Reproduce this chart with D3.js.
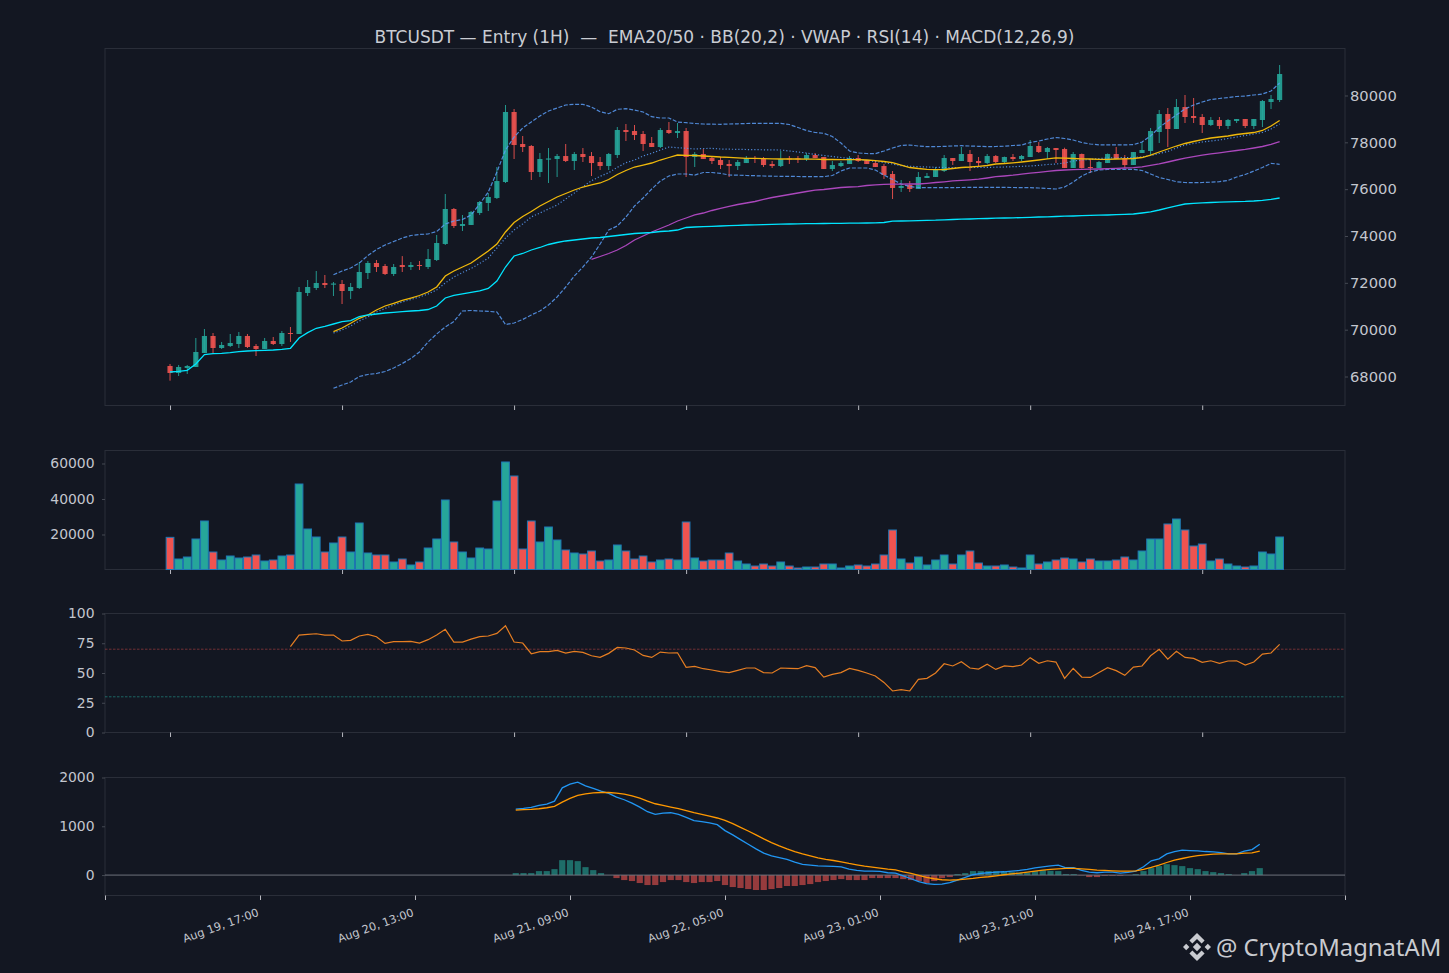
<!DOCTYPE html>
<html>
<head>
<meta charset="utf-8">
<script src="https://cdn.jsdelivr.net/npm/d3@7"></script>
<style>
  html, body { margin: 0; padding: 0; background: #131722; }
  svg { display: block; }
  text { font-family: "DejaVu Sans", sans-serif; }
</style>
</head>
<body>
<svg id="chart" width="1449" height="973"></svg>
<script>
// candles, one hour each
var opens = [68428,68129,68343,68385,68983,69709,69196,69282,69367,69709,69282,69154,69496,69367,69837,69794,71545,71758,71972,71900,
71929,71630,71758,72399,72826,72698,72356,72740,72655,72741,72655,72954,73638,75132,74406,74449,74962,75389,75602,76285,
79274,77907,77822,76711,77240,77266,77394,77181,77480,77394,77138,76967,77437,78505,78462,78334,77950,77779,78505,78377,
78462,77352,77480,77309,77224,77053,76967,77095,77309,77266,77053,76967,77290,77290,77266,77437,77352,76839,76967,77053,
77309,77224,77095,76967,76626,76029,76157,75986,76455,76498,76754,77309,77181,77480,77181,77095,77394,77138,77352,77266,
77352,77822,77565,77736,77693,76882,77480,76925,76882,77095,77480,77309,77010,77523,77608,78420,79188,78548,79487,79103,
79060,78719,78932,78676,78889,78975,78676,78932,79701,79786];
var highs = [68514,68471,68471,69624,70008,69837,69453,69794,69880,69794,69367,69624,69667,69922,70093,71801,72100,72484,72313,72014,
72100,71972,72869,72911,72954,72783,72783,73120,72869,72911,73424,74023,75773,75175,74876,75047,75474,75815,76925,79573,
79402,78249,77864,77523,77736,77480,77907,77565,77736,77565,77352,77523,78633,78761,78719,78462,78206,78590,78847,78804,
78590,77565,77693,77352,77352,77224,77224,77394,77394,77352,77181,77608,77394,77394,77523,77523,77352,77181,77181,77394,
77437,77224,77224,77053,76754,76370,76327,76711,76669,76925,77437,77309,77779,77651,77352,77480,77437,77370,77480,77437,
78078,77992,77779,77736,77750,77565,77500,77266,77180,77500,77779,77437,77565,77992,78590,79359,79444,79829,80000,79872,
79188,79060,79060,78975,78975,78975,78975,79786,80000,81281];
var lows = [67800,68001,68087,68385,68983,68983,69154,69239,69196,69196,68855,69154,69325,69282,69453,69794,71417,71673,71758,71417,
71075,71289,71716,72142,72442,72313,72271,72442,72527,72527,72570,72911,73595,74321,74193,74449,74876,75047,75559,76242,
77266,77565,76370,76498,76242,76498,77138,76797,77138,76541,76797,76797,77309,78035,78078,77608,77779,77736,78334,78163,
76498,76925,77266,77053,76839,76498,76797,77095,77095,76925,76882,76925,77053,77095,77181,77309,76839,76754,76925,77053,
77138,77053,76925,76413,75559,75858,75858,75986,76455,76498,76711,77010,77181,76754,76925,77053,77095,77095,77181,77181,
77352,77523,77266,77095,76880,76882,76860,76669,76882,77095,77266,76882,77010,77523,77437,77950,77779,78548,78804,78804,
78377,78676,78548,78548,78804,78590,78548,78633,79402,79701];
var closes = [68129,68385,68428,69026,69709,69196,69325,69410,69709,69239,69154,69496,69367,69837,69794,71588,71801,71972,71886,71950,
71630,71801,72442,72826,72655,72356,72655,72655,72741,72698,72997,73680,75132,74406,74492,75004,75431,75645,76327,79274,
77864,77779,76711,77266,77290,77394,77181,77480,77352,77095,76967,77480,78505,78420,78291,77907,77779,78505,78377,78462,
77352,77480,77266,77181,77010,76967,77138,77309,77266,77010,76967,77266,77250,77250,77437,77309,76839,77010,77095,77309,
77181,77053,76925,76583,76029,76114,75986,76498,76541,76797,77309,77181,77480,77138,77095,77394,77138,77352,77266,77394,
77822,77565,77736,77651,76882,77480,76882,76882,77138,77480,77266,77010,77565,77651,78462,79188,78548,79487,79060,79017,
78719,78932,78676,78932,78975,78676,78975,79743,79829,80896];
var volumes = [18400,6200,7320,17470,27610,10140,5630,7890,6760,7320,8450,5070,5630,7890,8450,48450,23100,18590,10140,15210,
18590,10140,26480,9580,8450,8450,4510,6200,2820,4510,12390,17470,39440,15780,10140,6760,12390,11830,38870,60850,
52960,11830,27610,15780,24230,16900,11270,9580,9010,10700,5070,5630,14080,10700,6200,7890,4510,5630,6200,5630,
27040,6760,5070,5630,5630,9580,5070,3380,2250,3380,2250,4510,2250,1130,1690,1690,3380,3380,1130,2250,
2820,2250,3380,8450,22540,6200,3940,7320,2820,5630,8450,3380,8450,10700,3940,2250,2250,2820,1690,1130,
8450,3380,4510,5630,6760,6200,4510,6200,5070,5070,5630,7320,5630,10700,17470,17470,25920,28730,22540,13520,
14650,5070,6200,3380,2250,1690,2250,10140,9010,18590];

// overlays, first value belongs to candle number in the *Start var
var vwap = [68172,68202,68245,68513,68911,68953,68970,68996,69039,69068,69081,69098,69111,69141,69184,69624,69850,70038,70123,70221,
70320,70362,70533,70606,70648,70691,70721,70746,70776,70798,70840,70990,71332,71439,71503,71567,71631,71737,72058,72655,
73125,73232,73381,73488,73616,73701,73766,73808,73851,73894,73915,73958,74000,74043,74086,74107,74128,74171,74192,74235,
74342,74363,74376,74393,74406,74423,74436,74449,74457,74466,74474,74483,74491,74500,74504,74508,74513,74517,74521,74525,
74530,74534,74542,74555,74611,74620,74628,74637,74645,74653,74671,74683,74696,74705,74717,74726,74739,74748,74756,74765,
74778,74790,74799,74811,74824,74833,74846,74858,74867,74875,74888,74901,74918,74961,75012,75089,75175,75268,75345,75375,
75397,75409,75422,75435,75448,75456,75473,75503,75546,75601];
var bandStart = 19;
var ema20 = [69892,70050,70251,70465,70606,70819,70990,71105,71225,71331,71438,71588,71801,72271,72484,72655,72826,73082,73338,73637,74150,
74555,74812,75025,75260,75452,75644,75794,75943,76071,76157,76242,76391,76605,76776,76925,77010,77096,77224,77331,77437,
77425,77416,77395,77374,77352,77340,77318,77297,77292,77284,77275,77267,77267,77267,77258,77258,77245,77245,77241,77241,
77237,77224,77194,77160,77109,77010,76904,76861,76827,76810,76818,76861,76904,76925,76955,76989,77053,77075,77104,77139,
77181,77224,77275,77318,77301,77288,77275,77267,77254,77254,77267,77275,77288,77331,77437,77566,77694,77822,77929,78014,
78099,78163,78206,78249,78313,78356,78398,78484,78676,78911];
var bbMid = [69837,69965,70136,70349,70520,70734,70883,71033,71161,71267,71374,71502,71673,71972,72228,72420,72591,72805,73039,73466,73893,
74235,74491,74790,74961,75132,75303,75559,75815,76084,76340,76528,76682,76912,77109,77224,77395,77510,77651,77779,77749,
77724,77694,77715,77719,77694,77685,77681,77672,77668,77660,77655,77651,77608,77566,77523,77459,77416,77374,77331,77288,
77254,77203,77160,77117,77053,76980,76959,76938,76925,76912,76904,76904,76904,76904,76908,76908,76917,76925,76938,76955,
76968,76998,77032,77053,77096,77181,77224,77245,77288,77309,77318,77326,77335,77352,77416,77501,77587,77736,77864,77929,
77993,78035,78078,78142,78206,78270,78334,78398,78548,78761];
var bbUpper = [72326,72484,72612,72825,73146,73402,73595,73744,73893,74000,74043,74064,74171,74491,74619,74683,74876,75345,75858,76712,77651,
78206,78590,78847,79103,79316,79444,79572,79602,79602,79487,79286,79201,79389,79414,79359,79274,79073,79017,79017,78847,
78817,78783,78761,78753,78749,78761,78770,78783,78787,78791,78791,78791,78740,78612,78484,78398,78364,78227,77950,77608,
77523,77502,77493,77608,77736,77843,77864,77822,77792,77796,77805,77822,77835,77822,77809,77796,77800,77813,77843,77864,
77971,78035,78121,78185,78142,78078,77971,77907,77873,77869,77869,77873,77877,77993,78249,78612,78889,79146,79402,79573,
79701,79807,79850,79893,79936,79957,80000,80042,80170,80512];
var bbLower = [67475,67616,67745,67979,68065,68108,68193,68342,68534,68748,69026,69453,69795,70093,70328,70776,70798,70776,70763,70734,70200,
70264,70413,70606,70776,71033,71374,71801,72271,72655,73082,73637,74235,74406,74790,75260,75602,75986,76327,76541,76626,
76626,76583,76690,76690,76656,76583,76575,76562,76553,76541,76532,76528,76524,76520,76515,76511,76511,76562,76754,76882,
76882,76882,76797,76583,76391,76199,76092,76050,76041,76041,76041,76046,76050,76054,76058,76058,76058,76054,76050,76046,
76041,76028,76007,75986,76071,76285,76541,76712,76797,76819,76827,76827,76827,76776,76626,76477,76391,76298,76263,76255,
76263,76276,76298,76349,76498,76605,76754,76904,77083,77040];
var ema50Start = 49;
var ema50 = [72976,73103,73232,73381,73573,73808,73979,74150,74299,74449,74619,74747,74876,74961,75068,75154,75239,75324,75388,75452,
75538,75623,75687,75751,75815,75879,75935,75965,76007,76050,76071,76084,76135,76165,76186,76191,76195,76199,76199,76229,
76263,76293,76331,76353,76379,76404,76455,76511,76541,76575,76618,76660,76699,76742,76776,76797,76810,76823,76831,76840,
76857,76870,76882,76899,76934,76998,77062,77139,77224,77309,77369,77429,77489,77532,77583,77630,77677,77736,77801,77895,78005];

var rsiStart = 14;
var rsi = [72.1,81.9,82.5,83,81.9,81.9,76.9,77.4,81.1,82.5,80.5,74.9,76.3,76.3,76.6,75.2,78,81.9,86.7,76,
76,78.5,80.5,81.1,83.3,89.7,76,75.2,66.2,67.9,67.9,69,66.8,68.2,67.3,64.5,63.1,66.5,71.5,71,
69.3,64.8,63.1,67.6,66.8,67,54.7,55.6,53.6,52.5,51.1,50.3,52.2,54.2,54.2,50.3,50,54.2,53.9,53.6,
56.1,54.5,46.6,48.9,50.3,53.9,52.2,50,47.5,42.1,34.9,36,34.9,44.7,45.5,50,57.8,55.9,59.5,54.2,
53.3,57.3,53,55.9,55.3,56.7,62.9,58.1,60.3,59.2,45.5,53.9,46.6,46.3,50.5,54.5,52,48,55,55.9,
64.5,69.9,61.7,68.2,63.1,62.3,58.9,60.3,58.1,60.1,60.3,56.7,59.2,65.9,66.8,74];

var macdStart = 33;
var macdLine = [1353,1367,1387,1428,1455,1516,1788,1863,1904,1829,1775,1720,1673,1598,1544,1476,1394,1299,1244,1272,
1278,1244,1183,1115,1095,1068,1034,911,823,728,632,537,449,394,360,320,265,218,204,190,
184,177,170,122,95,82,82,75,48,40,-14,-75,-136,-177,-190,-184,-156,-102,-48,7,
34,48,61,68,82,95,116,150,170,190,204,150,150,95,61,48,61,61,41,54,
82,170,292,333,435,483,510,503,496,483,476,462,435,435,490,524,632];
var macdSignal = [1333,1340,1346,1360,1380,1408,1496,1571,1632,1666,1686,1693,1693,1680,1659,1625,1578,1516,1462,1428,
1394,1360,1319,1278,1244,1210,1170,1122,1054,979,904,823,741,666,598,537,483,435,394,354,
320,299,272,238,211,184,163,143,122,109,68,34,-7,-48,-75,-95,-102,-95,-82,-68,
-48,-34,-14,7,27,41,61,82,102,116,129,136,136,129,116,102,95,88,82,82,
88,116,156,204,258,306,340,374,401,415,428,435,435,435,449,456,490];
var macdHist = [41,41,41,82,82,122,306,306,286,163,102,41,0,-61,-102,-122,-163,-204,-204,-143,
-102,-102,-143,-163,-143,-143,-122,-204,-245,-265,-286,-306,-306,-286,-265,-224,-224,-204,-184,-143,
-122,-102,-82,-102,-102,-102,-61,-61,-61,-61,-82,-102,-122,-163,-122,-61,-41,20,41,82,
82,82,82,75,61,54,54,82,102,88,82,20,20,-7,-41,-41,-14,-14,-14,0,
20,82,143,184,224,204,184,143,122,82,61,41,20,0,41,82,143];

var priceTicks = [68000,70000,72000,74000,76000,78000,80000];
var volumeTicks = [20000,40000,60000];
var rsiTicks = [0,25,50,75,100];
var macdTicks = [0,1000,2000];
var candleTicks = [0,20,40,60,80,100,120];
var bottomTicks = [-20,0,20,40,60,80,100,120,140];
var bottomLabels = ["","Aug 19, 17:00","Aug 20, 13:00","Aug 21, 09:00","Aug 22, 05:00","Aug 23, 01:00","Aug 23, 21:00","Aug 24, 17:00",""];
var titleText = "BTCUSDT \u2014 Entry (1H)  \u2014  EMA20/50 \u00b7 BB(20,2) \u00b7 VWAP \u00b7 RSI(14) \u00b7 MACD(12,26,9)";

var green = "#26a69a", red = "#ef5350", spine = "#2a2e39", textColor = "#c3c6ce";
var svg = d3.select("#chart");

// the three upper panes share one x scale, the macd pane has its own (wider domain)
var x = d3.scaleLinear().domain([-7.56, 136.6]).range([105, 1345]);
var xMacd = d3.scaleLinear().domain([-20, 140]).range([105, 1345]);
var step = x(1) - x(0);
var stepMacd = xMacd(1) - xMacd(0);

var yPrice = d3.scaleLinear().domain([66762, 82007]).range([405, 48]);
var yVol = d3.scaleLinear().domain([0, 67600]).range([570, 450]);
var yRsi = d3.scaleLinear().domain([0, 100]).range([732.5, 613.5]);
var yMacd = d3.scaleLinear().domain([-408, 2000]).range([895, 777.5]);

function up(i) { return closes[i] >= opens[i]; }

function pane(top, bottom) {
    return svg.append("rect").attr("x",105).attr("y",top).attr("width",1240).attr("height",bottom-top)
              .attr("fill","none").attr("stroke",spine).attr("stroke-width",1);
}

function styleAxis(g, size, tickColor) {
    g.select(".domain").remove();
    g.selectAll("line").attr("stroke",tickColor || "#c8cad0").attr("stroke-width",0.9);
    g.selectAll("text").attr("fill",textColor).style("font-size",size+"px")
     .style("font-family",'"DejaVu Sans", sans-serif');
}

function xTicks(y) {
    var g = svg.append("g").attr("transform","translate(0,"+y+")")
               .call(d3.axisBottom(x).tickValues(candleTicks).tickSize(4.5).tickFormat(""));
    styleAxis(g, 10);
}

function overlay(values, start, scaleY, scaleX, color, width, dash, opacity) {
    var line = d3.line().x(function(d,i){ return scaleX(i+start); }).y(function(d){ return scaleY(d); });
    return svg.append("path").datum(values).attr("d",line).attr("fill","none")
              .attr("stroke",color).attr("stroke-width",width)
              .attr("stroke-dasharray",dash).attr("opacity",opacity);
}

// title
svg.append("text").attr("x",724.5).attr("y",43).attr("text-anchor","middle")
   .attr("fill","#c9ccd3").style("font-size","17px").style("white-space","pre").text(titleText);

// ---------- price pane
pane(48.5,405.5);
xTicks(405.5);
var priceAxis = svg.append("g").attr("transform","translate(1345,0.5)")
    .call(d3.axisRight(yPrice).tickValues(priceTicks).tickSize(3).tickPadding(2).tickFormat(d3.format("d")));
styleAxis(priceAxis, 14.7, "#4a4e58");

var candle = svg.append("g").selectAll("g").data(d3.range(opens.length)).join("g");
candle.append("line").attr("x1",function(i){return x(i);}).attr("x2",function(i){return x(i);})
      .attr("y1",function(i){return yPrice(highs[i]);}).attr("y2",function(i){return yPrice(lows[i]);})
      .attr("stroke",function(i){return up(i)?green:red;}).attr("stroke-width",1).attr("opacity",0.9);
candle.append("rect").attr("x",function(i){return x(i)-step*0.3;}).attr("width",step*0.6)
      .attr("y",function(i){return yPrice(Math.max(opens[i],closes[i]));})
      .attr("height",function(i){return Math.max(1,Math.abs(yPrice(opens[i])-yPrice(closes[i])));})
      .attr("fill",function(i){return up(i)?green:red;}).attr("opacity",0.9);

overlay(bbUpper, bandStart, yPrice, x, "#5b9cf6", 1.2, "4,1.7", 0.85);
overlay(bbLower, bandStart, yPrice, x, "#5b9cf6", 1.2, "4,1.7", 0.85);
overlay(bbMid, bandStart, yPrice, x, "#5b9cf6", 1.2, "1.2,2", 0.85);
overlay(ema50, ema50Start, yPrice, x, "#ab47bc", 1.3, null, 1);
overlay(ema20, bandStart, yPrice, x, "#f0b90b", 1.3, null, 1);
overlay(vwap, 0, yPrice, x, "#00e5ff", 1.3, null, 1);

// ---------- volume pane
pane(450.5,569.5);
xTicks(569.5);
var volAxis = svg.append("g").attr("transform","translate(105,0)")
    .call(d3.axisLeft(yVol).tickValues(volumeTicks).tickSize(3).tickPadding(7.5).tickFormat(d3.format("d")));
styleAxis(volAxis, 13.9, "#4a4e58");
svg.append("g").selectAll("rect").data(volumes).join("rect")
   .attr("x",function(d,i){return x(i)-step*0.45;}).attr("width",step*0.9)
   .attr("y",function(d){return yVol(d);})
   .attr("height",function(d){return yVol.range()[0]-yVol(d)-0.5;})
   .attr("fill",function(d,i){return up(i)?green:red;})
   .attr("stroke","#1f77b4").attr("stroke-width",1);

// ---------- rsi pane
pane(613.5,732.5);
xTicks(732.5);
var rsiAxis = svg.append("g").attr("transform","translate(105,0)")
    .call(d3.axisLeft(yRsi).tickValues(rsiTicks).tickSize(3).tickPadding(7.5));
styleAxis(rsiAxis, 13.9, "#4a4e58");
overlay([70,70],0,yRsi,function(i){return i?1345:105;},red,0.8,"2.5,1.5",0.55);
overlay([30,30],0,yRsi,function(i){return i?1345:105;},green,0.8,"2.5,1.5",0.7);
overlay(rsi, rsiStart, yRsi, x, "#e67e22", 1.2, null, 1);

// ---------- macd pane
pane(777.5,895.5);
var macdAxis = svg.append("g").attr("transform","translate(105,0)")
    .call(d3.axisLeft(yMacd).tickValues(macdTicks).tickSize(3).tickPadding(7.5).tickFormat(d3.format("d")));
styleAxis(macdAxis, 13.9, "#4a4e58");
svg.append("g").selectAll("rect").data(macdHist).join("rect")
   .attr("x",function(d,i){return xMacd(i+macdStart)-stepMacd*0.4;}).attr("width",stepMacd*0.8)
   .attr("y",function(d){return yMacd(Math.max(d,0));})
   .attr("height",function(d){return Math.abs(yMacd(d)-yMacd(0));})
   .attr("fill",function(d){return d>=0?green:red;}).attr("opacity",0.6);
overlay([0,0],0,yMacd,function(i){return i?1345:105;},"#787b86",0.9,null,1);
overlay(macdLine, macdStart, yMacd, xMacd, "#2196f3", 1.3, null, 1);
overlay(macdSignal, macdStart, yMacd, xMacd, "#ff9800", 1.3, null, 1);

var bottomAxis = svg.append("g").attr("transform","translate(0,895.5)")
    .call(d3.axisBottom(xMacd).tickValues(bottomTicks).tickSize(4.5)
    .tickFormat(function(d,i){ return bottomLabels[i]; }));
styleAxis(bottomAxis, 11.3);
bottomAxis.selectAll("text").attr("text-anchor","end").attr("dy",null).attr("y",0)
    .attr("transform","translate(-1,20) rotate(-20)");

// watermark
var mark = svg.append("g").attr("transform","translate(1197,947)").attr("fill","#c9cbd0");
mark.append("path").attr("d","M0,-14L7.6,-6.4L4.6,-3.4L0,-8L-4.6,-3.4L-7.6,-6.4Z");
mark.append("path").attr("d","M0,14L7.6,6.4L4.6,3.4L0,8L-4.6,3.4L-7.6,6.4Z");
mark.append("path").attr("d","M0,-4.2L4.2,0L0,4.2L-4.2,0Z");
mark.append("path").attr("d","M-14,0L-10.8,-3.2L-7.6,0L-10.8,3.2Z");
mark.append("path").attr("d","M14,0L10.8,-3.2L7.6,0L10.8,3.2Z");
svg.append("text").attr("x",1216).attr("y",956).attr("fill","#c9cbd0")
   .style("font-family",'"Noto Sans", sans-serif').style("font-size","23.8px").text("@ CryptoMagnatAM");
</script>
</body>
</html>
